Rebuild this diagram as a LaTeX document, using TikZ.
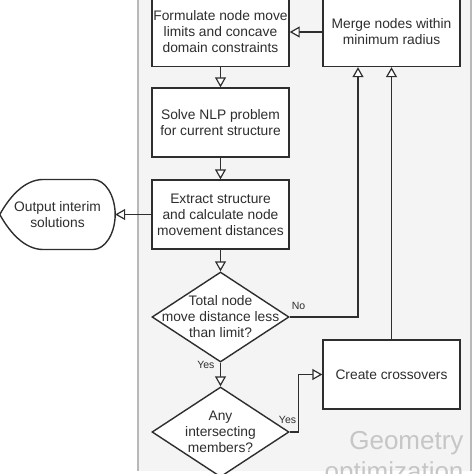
\documentclass[tikz,border=0pt]{standalone}
\usepackage{fontspec}
\setmainfont{Liberation Sans}
\usetikzlibrary{shapes.geometric,arrows.meta,positioning}
\definecolor{ink}{HTML}{2E2E2E}
\definecolor{panel}{HTML}{F4F4F4}
\definecolor{rim}{HTML}{B8B8B8}
\definecolor{faint}{HTML}{C6C6C6}

\begin{document}
\begin{tikzpicture}[x=1pt,y=-1pt,
  box/.style={draw=ink, line width=1.4pt, fill=white, minimum width=137pt, minimum height=69pt,
    inner sep=0pt, align=center, text=ink, font=\fontsize{13.8}{16}\selectfont},
  decision/.style={diamond, draw=ink, line width=1.4pt, fill=white, minimum width=137pt,
    minimum height=90pt, inner sep=0pt},
  words/.style={align=center, text=ink, inner sep=0pt, font=\fontsize{13.8}{16}\selectfont},
  lab/.style={text=ink, inner sep=1.5pt, font=\fontsize{10.5}{12}\selectfont},
  flow/.style={draw=ink, line width=1.2pt, -{Triangle[length=10pt, width=11pt, fill=white]}}]
\useasboundingbox (0,0) rectangle (474,474);
\clip (0,0) rectangle (474,474);

% grey panel behind the loop
\fill[panel] (138,-5) rectangle (471,471);
\draw[rim, line width=1.2pt] (138,-5) -- (138,471) (471,-5) -- (471,471);
\node[anchor=base east, align=right, text=faint, font=\fontsize{26}{31}\selectfont] (title)
  at (467,480) {Geometry\\optimization};

% steps
\node[box] (formulate) at (220.5,32) {Formulate node move\\limits and concave\\domain constraints};
\node[box] (merge) at (391.5,32) {Merge nodes within\\minimum radius};
\node[box] (solve) at (220.5,122.5) {Solve NLP problem\\for current structure};
\node[box] (extract) at (220.5,214.5) {Extract structure\\and calculate node\\movement distances};
\node[box] (cross) at (391.5,374.5) {Create crossovers};

% decisions
\node[decision] (check) at (220.5,317) {};
\node[words] (checktext) at (check.center) {Total node\\move distance less\\than limit?};
\node[decision] (members) at (220.5,432) {};
\node[words] (memberstext) at (members.center) {Any\\intersecting\\members?};

% output
\node[words, minimum width=115pt, minimum height=70pt] (output) at (57.5,214.5) {};
\draw[ink, line width=1.4pt, fill=white] (output.west) .. controls (10,196) and (25,179.5) .. (43,179.5)
  -- (93,179.5) .. controls (105,179.5) and (115,195) .. (output.east)
  .. controls (115,234) and (105,249.5) .. (93,249.5) -- (43,249.5)
  .. controls (25,249.5) and (10,233) .. (output.west);
\node[words] (outputtext) at (output.center) {Output interim\\solutions};

% connectors
\draw[flow] (merge.west) -- (formulate.east);
\draw[flow] (formulate) -- (solve);
\draw[flow] (solve) -- (extract);
\draw[flow] (extract.west) -- (output.east);
\draw[flow] (extract) -- (check.north);
\draw[flow] (check.south) -- node[lab, pos=0, anchor=east, xshift=-4pt, yshift=-2pt] (yes1) {Yes} (members.north);
\draw[flow] (check.east) -| node[lab, pos=0, anchor=south west, yshift=5pt] (no) {No} ([xshift=-33.5pt]merge.south);
\draw[flow] (members.east) -- ++(9,0) node[lab, pos=0, anchor=south east, xshift=8.5pt, yshift=6.5pt] (yes2) {Yes} |- (cross.west);
\draw[flow] (cross) -- (merge);
\end{tikzpicture}
\end{document}
